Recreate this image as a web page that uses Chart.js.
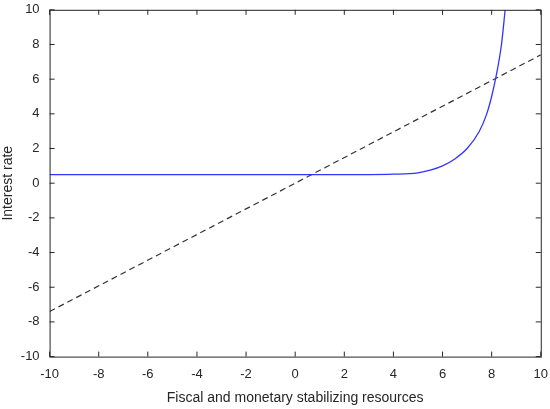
<!DOCTYPE html>
<html><head><script src="https://cdn.jsdelivr.net/npm/chart.js"></script>
<style>body{margin:0;background:#fff}#w{width:550px;height:409px}</style></head>
<body><div id="w"><canvas id="c"></canvas></div>
<script>
const curveX=[-10,3,4,5,5.5,6,6.5,7,7.5,7.8,8,8.2,8.4,8.55];
const curveY=[0.5,0.5,0.52,0.6,0.75,1.0,1.4,2.0,3.0,4.0,5.0,6.3,8.0,10];
const lineX=[-10,10];
const lineY=[-7.4,7.4];
const ticks=[-10,-8,-6,-4,-2,0,2,4,6,8,10];
const box={id:'box',afterDraw(ch){const a=ch.chartArea,c=ch.ctx;c.save();c.strokeStyle='#262626';c.lineWidth=1;c.strokeRect(a.left+.5,a.top+.5,a.right-a.left,a.bottom-a.top);
c.beginPath();const xs=ch.scales.x,ys=ch.scales.y;ticks.forEach(t=>{const px=xs.getPixelForValue(t),py=ys.getPixelForValue(t);c.moveTo(px,a.bottom);c.lineTo(px,a.bottom-5);c.moveTo(px,a.top);c.lineTo(px,a.top+5);c.moveTo(a.left,py);c.lineTo(a.left+5,py);c.moveTo(a.right,py);c.lineTo(a.right-5,py);});c.stroke();c.restore();}};
new Chart(document.getElementById('c'),{type:'scatter',
data:{datasets:[
{data:curveX.map((x,i)=>({x,y:curveY[i]})),showLine:true,borderColor:'#3333ff',borderWidth:1.3,pointRadius:0,tension:0.4,cubicInterpolationMode:'monotone'},
{data:lineX.map((x,i)=>({x,y:lineY[i]})),showLine:true,borderColor:'#333',borderWidth:1.2,borderDash:[6,4],pointRadius:0}]},
options:{animation:false,responsive:true,maintainAspectRatio:false,layout:{padding:{top:9,right:9,left:0,bottom:2}},
plugins:{legend:{display:false},tooltip:{enabled:false}},
scales:{x:{min:-10,max:10,afterBuildTicks:s=>{s.ticks=ticks.map(v=>({value:v}))},grid:{display:false},border:{display:false},
ticks:{color:'#262626',padding:2,font:{family:'Liberation Sans',size:13},maxRotation:0},title:{display:true,text:'Fiscal and monetary stabilizing resources',color:'#262626',padding:{top:6,bottom:0},font:{family:'Liberation Sans',size:14}}},
y:{min:-10,max:10,afterBuildTicks:s=>{s.ticks=ticks.map(v=>({value:v}))},grid:{display:false},border:{display:false},
ticks:{color:'#262626',padding:2,font:{family:'Liberation Sans',size:13}},title:{display:true,text:'Interest rate',color:'#262626',padding:{top:0,bottom:2},font:{family:'Liberation Sans',size:14}}}}},
plugins:[box]});
</script></body></html>
